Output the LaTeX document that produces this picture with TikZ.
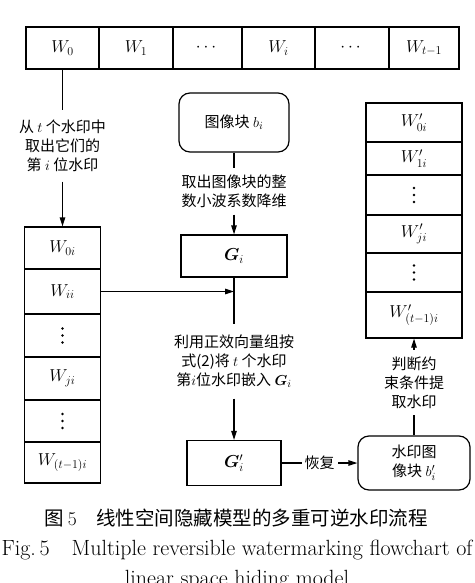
\documentclass[tikz,border=0pt]{standalone}
\usepackage{amsmath,amssymb,bm}
\usepackage{fontspec}
\newfontfamily\cjk{Noto Sans CJK SC}
\usetikzlibrary{arrows.meta, positioning}

\begin{document}
\begin{tikzpicture}[x=1pt, y=-1pt, >={Triangle[length=9pt,width=5.5pt]}, line width=1.2pt,
    cell/.style={draw, minimum width=#1, inner sep=0pt, font=\fontsize{16.5}{18}\selectfont},
    rbox/.style={draw, rounded corners=11pt, inner sep=2pt, align=center, font=\cjk\fontsize{15}{19}\selectfont},
    note/.style={align=center, inner xsep=2pt, inner ysep=6pt, font=\cjk\fontsize{15}{19}\selectfont}]
    \useasboundingbox (0,0) rectangle (474,583);
    % watermark sequence
    \node[cell=73, minimum height=42] (w0) at (62.5,48) {$W_0$};
    \node[cell=74, minimum height=42] (w1) at (136,48) {$W_1$};
    \node[cell=69, minimum height=42] (wdots) at (207.5,48) {$\cdots$};
    \node[cell=73, minimum height=42] (wi) at (278.5,48) {$W_i$};
    \node[cell=74, minimum height=42] (wdotss) at (352,48) {$\cdots$};
    \node[cell=70, minimum height=42] (wt) at (424,48) {$W_{t-1}$};
    % i-th bits
    \node[cell=76, minimum height=42] (lw0) at (62.5,248) {$W_{0i}$};
    \node[cell=76, minimum height=45] (lwi) at (62.5,291.5) {$W_{ii}$};
    \node[cell=76, minimum height=43] (lvd) at (62.5,335.5) {};
    \node[cell=76, minimum height=43] (lwj) at (62.5,378.5) {$W_{ji}$};
    \node[cell=76, minimum height=42] (lvdd) at (62.5,421) {};
    \node[cell=76, minimum height=41] (lwt) at (62.5,462.5) {$W_{(t-1)i}$};
    % extracted bits
    \node[cell=96, minimum height=39] (rw0) at (414,122.5) {$W'_{0i}$};
    \node[cell=96, minimum height=33] (rw1) at (414,158.5) {$W'_{1i}$};
    \node[cell=96, minimum height=40] (rvd) at (414,195) {};
    \node[cell=96, minimum height=38] (rwj) at (414,234) {$W'_{ji}$};
    \node[cell=96, minimum height=39] (rvdd) at (414,272.5) {};
    \node[cell=96, minimum height=46] (rwt) at (414,315) {$W'_{(t-1)i}$};
    % vertical dots
    \foreach \d in {lvd,lvdd,rvd,rvdd}
        \foreach \k in {-7,0,7}
            \fill ([yshift=\k pt]\d.center) circle (1.4pt);
    % embedding path
    \node[rbox, minimum width=110, minimum height=59] (blk) at (234,122.5) {图像块 $b_i$};
    \node[note] (reduce) at (234,191.5) {取出图像块的整\\数小波系数降维};
    \node[cell=106, minimum height=42] (gi) at (234,256) {$\boldsymbol{G}_i$};
    \node[note, inner ysep=10pt] (embed) at (234,361.5) {利用正效向量组按\\式(2)将 $t$ 个水印\\第$i$位水印嵌入 $\boldsymbol{G}_i$};
    \node[cell=94, minimum height=45] (gpi) at (234,463) {$\boldsymbol{G}'_i$};
    \node[rbox, minimum width=112, minimum height=54] (wm) at (414,463) {水印图\\像块 $b'_i$};
    \node[note] (judge) at (414,382.5) {判断约\\束条件提\\取水印};
    \node[note, inner ysep=9pt] (pick) at (62.5,146) {从 $t$ 个水印中\\取出它们的\\第 $i$ 位水印};

    \draw (w0) -- (pick); \draw[->] (pick) -- (lw0);
    \draw (blk) -- (reduce); \draw[->] (reduce) -- (gi);
    \draw (gi) -- (embed); \draw[->] (embed) -- (gpi);
    \draw[->] (lwi.east) -- (lwi.east -| gi.south);
    \draw[->] (gpi) -- node[fill=white, inner sep=3pt, font=\cjk\fontsize{15}{18}\selectfont]{恢复} (wm);
    \draw (wm) -- (judge); \draw[->] (judge) -- (rwt);

    % caption
    \node[font=\cjk\fontsize{19.5}{24}\selectfont] (capzh) at (236,518) {图 \textrm{5}\quad 线性空间隐藏模型的多重可逆水印流程};
    \node[font=\fontsize{22}{26}\selectfont] (capen) at (237,550) {Fig.\,5\quad Multiple reversible watermarking flowchart of};
    \node[font=\fontsize{22}{26}\selectfont] (capenn) at (237,580) {linear space hiding model};
\end{tikzpicture}
\end{document}
